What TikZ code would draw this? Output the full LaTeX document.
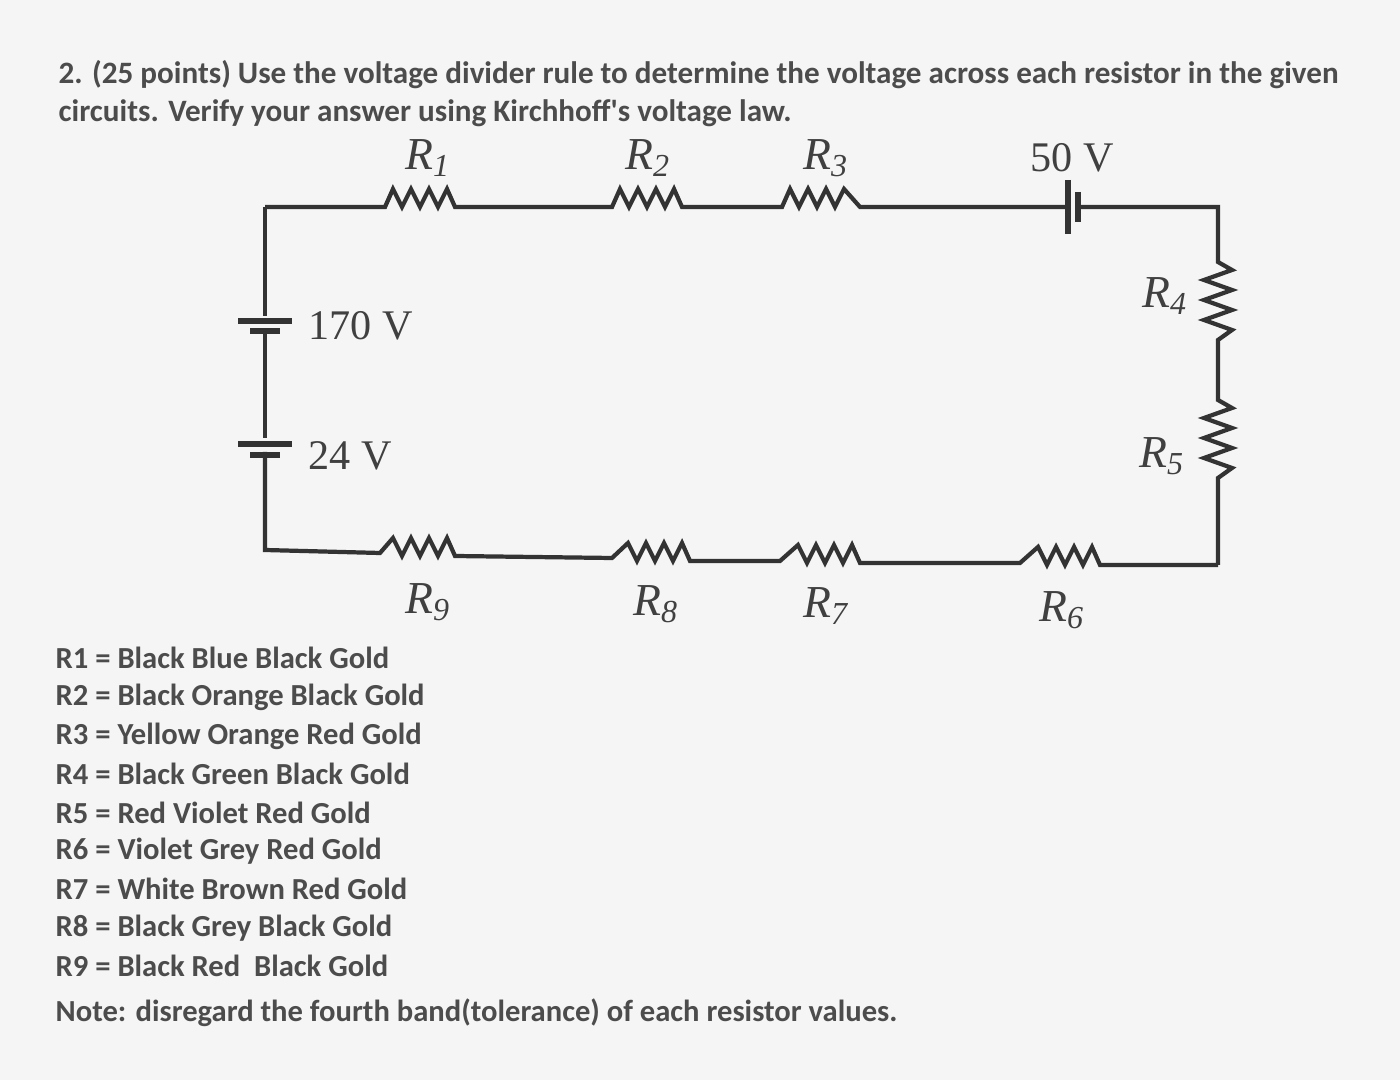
\documentclass[tikz,border=0pt]{standalone}
\usepackage{fontspec}
\setmainfont{Liberation Serif}
\newfontfamily\txt{Carlito}
\newcommand{\Rl}[1]{\textit{R}\textsubscript{\itshape #1}}
\begin{document}
\begin{tikzpicture}[x=0.01cm,y=-0.01cm,
  wire/.style={line width=1.2pt,color=black!80},
  plate/.style={line width=1.6pt,color=black!80},
  lbl/.style={font=\fontsize{13}{15}\selectfont,text=black!75},
  vlt/.style={font=\fontsize{12}{14}\selectfont,text=black!75},
  txtl/.style={font=\txt\bfseries\fontsize{8.7}{10}\selectfont,text=black!70,anchor=west,inner sep=0pt}]
\fill[gray!8] (0,0) rectangle (1400,1080);
\useasboundingbox (0,0) rectangle (1400,1080);
\node[txtl,font=\txt\bfseries\fontsize{8.85}{10}\selectfont] (t1) at (58,75) {2. (25 points) Use the voltage divider rule to determine the voltage across each resistor in the given};
\node[txtl,font=\txt\bfseries\fontsize{8.85}{10}\selectfont] (t2) at (58,113) {circuits. Verify your answer using Kirchhoff's voltage law.};
\coordinate (tl) at (265,207); \coordinate (tr) at (1218,207);
\coordinate (bl) at (265,550); \coordinate (br) at (1218,565);
\draw[wire] (tl) -- (385,207) -- (393,189) -- (402,207) -- (411,189) -- (420,207) -- (429,189) -- (438,207) -- (447,189) -- (455,207)
 -- (612,207) -- (620,189) -- (629,207) -- (638,189) -- (647,207) -- (656,189) -- (665,207) -- (674,189) -- (682,207)
 -- (782,207) -- (790,189) -- (799,207) -- (808,189) -- (817,207) -- (826,189) -- (835,207) -- (844,189) -- (860,207)
 -- (1068,207);
\draw[wire] (1078,207) -- (tr) -- (1218,262)
 -- (1232,270) -- (1204,280) -- (1232,290) -- (1204,300) -- (1232,310) -- (1204,320) -- (1232,330) -- (1218,340)
 -- (1218,400) -- (1232,408) -- (1204,418) -- (1232,428) -- (1204,438) -- (1232,448) -- (1204,458) -- (1232,468) -- (1218,478)
 -- (br);
\draw[wire] (br) -- (1100,565) -- (1092,547) -- (1083,565) -- (1074,547) -- (1065,565) -- (1056,547) -- (1047,565) -- (1038,547) -- (1020,563)
 -- (860,563) -- (852,545) -- (843,563) -- (834,545) -- (825,563) -- (816,545) -- (807,563) -- (798,545) -- (780,561)
 -- (690,561) -- (682,543) -- (673,561) -- (664,543) -- (655,561) -- (646,543) -- (637,561) -- (628,543) -- (612,558)
 -- (455,556) -- (447,538) -- (438,556) -- (429,538) -- (420,556) -- (411,538) -- (402,556) -- (393,538) -- (380,553)
 -- (bl) -- (265,452);
\draw[wire] (265,438) -- (265,330);
\draw[wire] (265,316) -- (tl);
\draw[plate] (238,321) -- (292,321);
\draw[plate] (250,331) -- (280,331);
\draw[plate] (238,444) -- (292,444);
\draw[plate] (250,455) -- (280,455);
\draw[plate] (1068,180) -- (1068,234);
\draw[plate] (1078,192) -- (1078,222);
\node[lbl] (r1) at (428,158) {\Rl{1}};
\node[lbl] (r2) at (648,158) {\Rl{2}};
\node[lbl] (r3) at (826,158) {\Rl{3}};
\node[vlt] (v50) at (1072,158) {50 V};
\node[lbl] (r4) at (1165,296) {\Rl{4}};
\node[lbl] (r5) at (1162,456) {\Rl{5}};
\node[vlt,anchor=west] (v170) at (296,326) {170 V};
\node[vlt,anchor=west] (v24) at (296,456) {24 V};
\node[lbl] (r9) at (428,602) {\Rl{9}};
\node[lbl] (r8) at (656,604) {\Rl{8}};
\node[lbl] (r7) at (826,606) {\Rl{7}};
\node[lbl] (r6) at (1062,610) {\Rl{6}};
\node[txtl] (l1) at (55,658) {R1 = Black Blue Black Gold};
\node[txtl] (l2) at (55,697) {R2 = Black Orange Black Gold};
\node[txtl] (l3) at (55,736) {R3 = Yellow Orange Red Gold};
\node[txtl] (l4) at (55,774) {R4 = Black Green Black Gold};
\node[txtl] (l5) at (55,813) {R5 = Red Violet Red Gold};
\node[txtl] (l6) at (55,851) {R6 = Violet Grey Red Gold};
\node[txtl] (l7) at (55,889) {R7 = White Brown Red Gold};
\node[txtl] (l8) at (55,928) {R8 = Black Grey Black Gold};
\node[txtl] (l9) at (55,966) {R9 = Black Red\ \ Black Gold};
\node[txtl] (l10) at (55,1013) {Note: disregard the fourth band(tolerance) of each resistor values.};
\end{tikzpicture}
\end{document}
